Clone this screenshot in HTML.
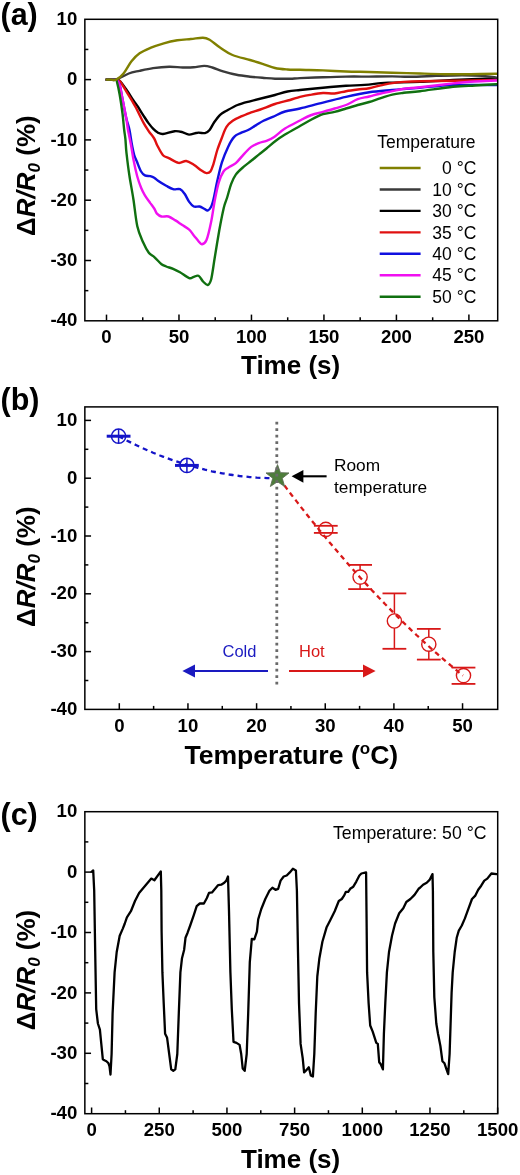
<!DOCTYPE html>
<html><head><meta charset="utf-8"><title>Figure</title>
<style>html,body{margin:0;padding:0;background:#fff;}body{width:520px;height:1175px;overflow:hidden;}svg{display:block;}</style>
</head><body>
<svg width="520" height="1175" viewBox="0 0 520 1175" font-family="'Liberation Sans', Arial, Helvetica, sans-serif">
<rect width="520" height="1175" fill="#fff"/>
<text x="0.5" y="24.5" font-size="30.5" font-weight="bold">(a)</text>
<text x="77.3" y="326.40" text-anchor="end" font-size="18.6" font-weight="bold">-40</text>
<line x1="84.85" y1="290.65" x2="88.35" y2="290.65" stroke="#000" stroke-width="1.50"/>
<line x1="84.85" y1="260.50" x2="91.05" y2="260.50" stroke="#000" stroke-width="1.50"/>
<text x="77.3" y="266.10" text-anchor="end" font-size="18.6" font-weight="bold">-30</text>
<line x1="84.85" y1="230.35" x2="88.35" y2="230.35" stroke="#000" stroke-width="1.50"/>
<line x1="84.85" y1="200.20" x2="91.05" y2="200.20" stroke="#000" stroke-width="1.50"/>
<text x="77.3" y="205.80" text-anchor="end" font-size="18.6" font-weight="bold">-20</text>
<line x1="84.85" y1="170.05" x2="88.35" y2="170.05" stroke="#000" stroke-width="1.50"/>
<line x1="84.85" y1="139.90" x2="91.05" y2="139.90" stroke="#000" stroke-width="1.50"/>
<text x="77.3" y="145.50" text-anchor="end" font-size="18.6" font-weight="bold">-10</text>
<line x1="84.85" y1="109.75" x2="88.35" y2="109.75" stroke="#000" stroke-width="1.50"/>
<line x1="84.85" y1="79.60" x2="91.05" y2="79.60" stroke="#000" stroke-width="1.50"/>
<text x="77.3" y="85.20" text-anchor="end" font-size="18.6" font-weight="bold">0</text>
<line x1="84.85" y1="49.45" x2="88.35" y2="49.45" stroke="#000" stroke-width="1.50"/>
<text x="77.3" y="24.90" text-anchor="end" font-size="18.6" font-weight="bold">10</text>
<line x1="142.74" y1="320.80" x2="142.74" y2="317.30" stroke="#000" stroke-width="1.50"/>
<line x1="215.22" y1="320.80" x2="215.22" y2="317.30" stroke="#000" stroke-width="1.50"/>
<line x1="287.70" y1="320.80" x2="287.70" y2="317.30" stroke="#000" stroke-width="1.50"/>
<line x1="360.18" y1="320.80" x2="360.18" y2="317.30" stroke="#000" stroke-width="1.50"/>
<line x1="432.66" y1="320.80" x2="432.66" y2="317.30" stroke="#000" stroke-width="1.50"/>
<line x1="106.50" y1="320.80" x2="106.50" y2="314.60" stroke="#000" stroke-width="1.50"/>
<text x="106.50" y="343.00" text-anchor="middle" font-size="18.6" font-weight="bold">0</text>
<line x1="178.98" y1="320.80" x2="178.98" y2="314.60" stroke="#000" stroke-width="1.50"/>
<text x="178.98" y="343.00" text-anchor="middle" font-size="18.6" font-weight="bold">50</text>
<line x1="251.46" y1="320.80" x2="251.46" y2="314.60" stroke="#000" stroke-width="1.50"/>
<text x="251.46" y="343.00" text-anchor="middle" font-size="18.6" font-weight="bold">100</text>
<line x1="323.94" y1="320.80" x2="323.94" y2="314.60" stroke="#000" stroke-width="1.50"/>
<text x="323.94" y="343.00" text-anchor="middle" font-size="18.6" font-weight="bold">150</text>
<line x1="396.42" y1="320.80" x2="396.42" y2="314.60" stroke="#000" stroke-width="1.50"/>
<text x="396.42" y="343.00" text-anchor="middle" font-size="18.6" font-weight="bold">200</text>
<line x1="468.90" y1="320.80" x2="468.90" y2="314.60" stroke="#000" stroke-width="1.50"/>
<text x="468.90" y="343.00" text-anchor="middle" font-size="18.6" font-weight="bold">250</text>
<text x="290.6" y="374" text-anchor="middle" font-size="26" font-weight="bold">Time (s)</text>
<text transform="translate(34.50,175.60) rotate(-90)" text-anchor="middle" font-size="26" font-weight="bold">&#916;<tspan font-style="italic">R/R</tspan><tspan font-style="italic" font-size="17" dy="5">0</tspan><tspan dy="-5"> (%)</tspan></text>
<path d="M106.5,79.6 C107.2,79.6 109.4,79.6 111.0,79.6 C112.6,79.6 114.8,79.5 116.2,79.7 C117.6,79.9 117.9,79.2 119.6,80.8 C121.3,82.4 124.0,86.2 126.3,89.4 C128.6,92.6 131.2,97.1 133.1,100.0 C135.0,102.9 136.3,104.3 137.9,106.7 C139.5,109.1 140.9,111.7 142.7,114.4 C144.5,117.1 146.7,120.7 148.5,123.1 C150.3,125.5 151.7,127.2 153.3,128.8 C154.9,130.4 156.5,131.8 158.1,132.7 C159.7,133.6 160.2,134.2 163.0,134.0 C165.8,133.8 171.4,131.5 174.6,131.2 C177.8,130.9 179.9,131.5 182.3,132.1 C184.7,132.7 186.4,134.5 189.0,134.6 C191.6,134.7 195.0,132.9 197.7,132.7 C200.4,132.4 203.0,133.5 205.0,133.1 C207.0,132.7 208.1,131.8 209.6,130.0 C211.1,128.2 212.4,124.9 214.2,122.3 C216.0,119.7 218.3,116.5 220.4,114.6 C222.5,112.7 223.7,112.4 226.5,110.8 C229.3,109.2 233.6,106.6 237.5,105.0 C241.4,103.4 245.4,102.5 250.0,101.3 C254.6,100.0 260.8,98.5 265.0,97.5 C269.2,96.5 271.2,96.0 275.0,95.0 C278.8,94.0 283.3,92.3 287.5,91.5 C291.7,90.7 294.1,90.6 300.0,90.0 C305.9,89.4 315.3,88.4 323.0,87.7 C330.7,87.0 339.1,86.3 346.0,85.8 C352.9,85.3 358.8,85.4 364.6,84.9 C370.4,84.5 376.2,83.5 380.8,83.1 C385.4,82.7 385.8,82.8 392.3,82.6 C398.8,82.4 409.9,82.3 420.0,81.9 C430.1,81.5 440.2,80.6 453.0,80.0 C465.8,79.4 489.2,78.5 496.5,78.2" fill="none" stroke="#000000" stroke-width="2.4" stroke-linejoin="round" stroke-linecap="round"/>
<path d="M106.5,79.6 C107.2,79.6 109.4,79.6 111.0,79.6 C112.6,79.6 114.8,79.5 116.2,79.7 C117.6,79.9 117.9,78.9 119.6,80.8 C121.3,82.7 124.2,87.9 126.3,91.3 C128.4,94.7 130.5,98.3 132.1,101.0 C133.7,103.7 134.7,105.3 136.0,107.7 C137.3,110.1 138.5,112.8 139.8,115.4 C141.1,118.0 142.2,120.5 143.7,123.1 C145.1,125.7 146.8,128.2 148.5,130.8 C150.2,133.4 152.7,136.1 154.2,138.5 C155.7,140.9 155.8,142.7 157.3,145.5 C158.8,148.3 161.1,153.1 163.0,155.2 C164.9,157.3 166.2,156.8 168.8,158.1 C171.4,159.4 175.6,162.4 178.5,162.9 C181.4,163.4 183.6,160.7 186.2,161.0 C188.8,161.3 191.2,163.2 193.8,164.8 C196.4,166.4 199.4,169.2 201.5,170.6 C203.6,172.0 205.0,172.9 206.5,173.1 C208.0,173.2 209.2,173.1 210.4,171.5 C211.6,169.9 212.3,167.4 213.5,163.8 C214.7,160.2 215.9,154.3 217.3,150.0 C218.7,145.7 220.4,141.5 221.9,137.7 C223.4,133.8 224.7,129.7 226.5,126.9 C228.3,124.1 230.1,122.6 232.7,120.8 C235.3,119.0 238.8,117.6 241.9,116.2 C245.0,114.8 248.1,113.4 251.2,112.3 C254.3,111.2 256.4,110.9 260.4,109.5 C264.4,108.1 270.1,105.6 275.0,104.0 C279.9,102.4 285.8,101.2 290.0,100.0 C294.2,98.8 296.4,97.8 300.0,96.9 C303.6,96.0 307.7,95.2 311.5,94.6 C315.3,93.9 319.1,93.2 323.0,93.0 C326.9,92.8 330.8,93.8 334.6,93.5 C338.4,93.2 342.1,91.9 346.0,91.2 C349.9,90.5 353.8,90.0 357.7,89.5 C361.6,89.0 365.3,88.9 369.2,88.2 C373.1,87.5 376.9,86.2 380.8,85.4 C384.7,84.6 388.5,83.7 392.3,83.1 C396.1,82.5 399.2,82.2 403.8,81.9 C408.4,81.6 411.8,81.4 420.0,81.2 C428.2,81.0 440.2,81.0 453.0,80.8 C465.8,80.6 489.2,80.1 496.5,79.9" fill="none" stroke="#e01010" stroke-width="2.4" stroke-linejoin="round" stroke-linecap="round"/>
<path d="M106.5,79.6 C107.2,79.6 109.4,79.6 111.0,79.6 C112.6,79.6 114.8,78.9 116.2,79.7 C117.6,80.5 118.5,81.4 119.6,84.6 C120.6,87.8 121.4,93.4 122.5,99.0 C123.6,104.6 125.1,113.1 126.3,118.3 C127.5,123.5 128.6,125.5 129.5,130.0 C130.4,134.4 131.2,140.8 132.0,145.0 C132.8,149.2 133.3,152.1 134.2,155.0 C135.1,157.9 136.0,159.6 137.2,162.3 C138.3,165.1 139.8,169.3 141.1,171.5 C142.4,173.7 143.4,174.6 144.9,175.4 C146.4,176.2 148.8,175.8 150.3,176.2 C151.9,176.6 152.9,176.9 154.2,177.7 C155.5,178.5 156.0,179.5 158.0,180.8 C160.0,182.2 163.7,184.4 166.2,185.8 C168.7,187.2 170.8,188.6 173.1,189.2 C175.4,189.8 178.1,188.4 180.0,189.2 C181.9,190.0 183.1,191.7 184.6,193.8 C186.1,195.9 187.7,199.8 189.2,201.9 C190.7,204.0 192.1,205.7 193.8,206.5 C195.5,207.3 197.9,206.1 199.6,206.5 C201.3,206.9 202.8,208.1 204.2,208.8 C205.5,209.5 206.6,210.8 207.7,210.5 C208.8,210.2 210.0,208.9 211.0,207.0 C212.0,205.1 212.4,203.6 213.5,199.2 C214.6,194.8 215.9,187.0 217.3,180.8 C218.7,174.7 220.1,168.0 221.9,162.3 C223.7,156.7 226.1,151.1 228.1,146.9 C230.1,142.7 232.1,139.2 234.2,136.9 C236.2,134.6 238.1,134.2 240.4,133.1 C242.7,131.9 245.5,131.3 248.1,130.0 C250.7,128.7 253.2,126.9 255.8,125.4 C258.4,123.9 260.7,122.2 263.5,120.8 C266.3,119.4 269.1,118.5 272.7,116.9 C276.3,115.4 280.4,112.9 285.0,111.5 C289.6,110.1 293.7,110.0 300.0,108.5 C306.3,107.0 315.3,104.6 323.0,102.7 C330.7,100.8 338.3,98.6 346.0,96.9 C353.7,95.2 361.5,93.5 369.2,92.3 C376.9,91.1 386.1,90.6 392.3,90.0 C398.5,89.4 401.6,89.2 406.2,88.8 C410.8,88.4 412.2,88.3 420.0,87.7 C427.8,87.1 440.2,85.5 453.0,85.1 C465.8,84.6 489.2,85.0 496.5,85.0" fill="none" stroke="#1010e0" stroke-width="2.4" stroke-linejoin="round" stroke-linecap="round"/>
<path d="M106.5,79.6 C107.2,79.6 109.4,79.6 111.0,79.6 C112.6,79.6 114.8,78.9 116.2,79.7 C117.6,80.5 118.5,81.4 119.6,84.6 C120.6,87.8 121.4,93.4 122.5,99.0 C123.6,104.6 125.4,113.1 126.3,118.3 C127.2,123.5 127.2,125.5 128.0,130.0 C128.8,134.4 130.1,140.1 131.0,145.0 C131.9,149.9 132.4,154.0 133.4,159.2 C134.4,164.4 135.9,171.4 137.2,176.2 C138.5,180.9 139.8,184.5 141.1,187.7 C142.4,190.9 143.4,192.8 144.9,195.4 C146.4,198.0 148.8,200.9 150.3,203.1 C151.9,205.3 153.1,206.8 154.2,208.5 C155.3,210.2 155.7,212.3 156.9,213.6 C158.1,214.9 159.6,216.0 161.5,216.5 C163.4,217.0 166.2,215.8 168.5,216.5 C170.8,217.2 173.1,219.0 175.4,220.4 C177.7,221.8 180.0,223.5 182.3,225.0 C184.6,226.5 187.3,227.9 189.2,229.6 C191.1,231.3 192.2,233.5 193.8,235.4 C195.4,237.3 197.2,239.7 198.5,241.2 C199.8,242.7 200.6,244.4 201.9,244.2 C203.2,244.0 204.9,243.8 206.5,240.0 C208.1,236.2 209.8,228.3 211.2,221.5 C212.6,214.7 213.7,205.7 215.0,199.2 C216.3,192.7 217.4,186.9 218.8,182.3 C220.2,177.7 221.9,173.9 223.5,171.5 C225.1,169.1 226.0,169.1 228.1,167.7 C230.2,166.3 233.2,165.3 235.8,163.1 C238.4,160.9 240.9,157.3 243.5,154.6 C246.1,151.9 248.6,148.8 251.2,146.9 C253.8,145.0 256.2,144.1 258.8,143.1 C261.4,142.1 263.9,141.8 266.5,140.8 C269.1,139.8 271.1,139.0 274.2,136.9 C277.3,134.8 280.7,131.2 285.0,128.5 C289.3,125.8 295.6,122.8 300.0,120.5 C304.4,118.2 307.7,116.4 311.5,115.0 C315.3,113.6 319.1,113.0 323.0,111.9 C326.9,110.8 330.8,109.7 334.6,108.5 C338.4,107.3 342.1,106.5 346.0,105.0 C349.9,103.5 353.8,100.6 357.7,99.2 C361.6,97.8 365.3,97.5 369.2,96.5 C373.1,95.5 376.9,94.4 380.8,93.5 C384.7,92.6 388.5,92.0 392.3,91.2 C396.1,90.4 399.2,89.5 403.8,88.8 C408.4,88.1 411.8,88.1 420.0,87.2 C428.2,86.3 443.8,84.4 453.0,83.4 C462.2,82.5 467.8,82.0 475.0,81.5 C482.2,81.0 492.9,80.7 496.5,80.5" fill="none" stroke="#f010f0" stroke-width="2.4" stroke-linejoin="round" stroke-linecap="round"/>
<path d="M106.5,79.6 C107.2,79.6 109.4,79.6 111.0,79.6 C112.6,79.6 115.2,79.5 116.2,79.7 C117.2,79.9 116.1,78.4 116.7,80.8 C117.3,83.2 118.6,88.8 119.6,94.2 C120.6,99.7 121.7,107.5 122.5,113.5 C123.3,119.5 123.7,125.8 124.2,130.0 C124.7,134.2 125.0,135.2 125.4,139.0 C125.8,142.8 125.8,146.9 126.5,153.1 C127.2,159.3 128.3,168.5 129.5,176.2 C130.7,183.9 132.1,190.9 133.4,199.2 C134.7,207.5 135.7,219.0 137.3,226.2 C138.9,233.4 141.2,237.9 143.1,242.3 C145.0,246.7 146.9,250.2 148.8,252.7 C150.7,255.2 152.5,255.4 154.6,257.3 C156.7,259.2 159.6,262.7 161.5,264.2 C163.4,265.7 164.3,265.7 166.2,266.5 C168.1,267.3 170.8,267.8 173.1,268.8 C175.4,269.8 177.3,270.8 180.0,272.3 C182.7,273.9 186.9,277.3 189.2,278.1 C191.5,278.9 192.2,277.3 193.8,276.9 C195.4,276.5 196.9,275.0 198.5,275.8 C200.1,276.6 201.6,280.0 203.1,281.5 C204.6,283.0 206.3,285.4 207.7,285.0 C209.0,284.6 210.0,283.6 211.2,279.2 C212.3,274.8 213.3,266.6 214.6,258.5 C215.9,250.4 217.7,239.3 219.2,230.8 C220.7,222.3 222.5,213.3 223.8,207.7 C225.2,202.1 226.1,201.0 227.3,197.0 C228.5,193.0 229.8,187.5 231.2,183.8 C232.6,180.1 233.8,177.4 235.8,174.6 C237.9,171.8 240.9,169.2 243.5,166.9 C246.1,164.6 248.6,162.9 251.2,160.8 C253.8,158.8 256.2,156.7 258.8,154.6 C261.4,152.5 263.7,150.8 266.5,148.5 C269.3,146.2 272.7,143.1 275.8,140.8 C278.9,138.5 281.0,137.1 285.0,134.6 C289.0,132.1 295.6,128.5 300.0,126.0 C304.4,123.5 307.7,121.5 311.5,119.5 C315.3,117.5 319.1,115.5 323.0,114.2 C326.9,112.9 330.8,112.9 334.6,111.9 C338.4,111.0 342.1,109.7 346.0,108.5 C349.9,107.3 353.8,106.1 357.7,105.0 C361.6,103.9 365.3,103.2 369.2,102.0 C373.1,100.8 376.9,99.3 380.8,98.1 C384.7,96.9 388.5,95.5 392.3,94.6 C396.1,93.7 399.2,93.4 403.8,92.8 C408.4,92.2 411.8,92.2 420.0,91.2 C428.2,90.2 443.8,87.8 453.0,86.8 C462.2,85.8 467.8,85.9 475.0,85.5 C482.2,85.1 492.9,84.4 496.5,84.2" fill="none" stroke="#107010" stroke-width="2.4" stroke-linejoin="round" stroke-linecap="round"/>
<path d="M106.5,79.6 C107.2,79.6 109.4,79.6 111.0,79.6 C112.6,79.6 113.2,80.7 116.2,79.7 C119.2,78.7 124.9,75.0 128.8,73.5 C132.7,72.0 135.6,71.7 139.6,70.8 C143.6,69.9 148.2,68.8 153.1,68.1 C158.0,67.4 164.3,66.8 169.2,66.7 C174.1,66.6 178.6,67.4 182.7,67.5 C186.8,67.6 189.9,67.6 193.5,67.3 C197.1,67.0 201.1,65.9 204.2,65.9 C207.3,65.9 209.2,66.6 212.3,67.5 C215.5,68.4 219.1,70.1 223.1,71.3 C227.1,72.5 232.0,73.9 236.5,74.8 C241.0,75.7 245.7,76.2 250.0,76.7 C254.3,77.2 258.1,77.5 262.3,77.8 C266.5,78.1 270.4,78.5 275.0,78.7 C279.6,78.9 285.8,78.8 290.0,78.7 C294.2,78.6 294.5,78.3 300.0,78.1 C305.5,77.9 315.3,77.5 323.0,77.3 C330.7,77.0 338.3,76.7 346.0,76.6 C353.7,76.5 361.3,76.6 369.0,76.6 C376.7,76.6 385.2,76.4 392.0,76.4 C398.8,76.4 402.7,76.9 410.0,76.8 C417.3,76.7 427.3,76.2 436.0,75.9 C444.7,75.6 454.2,75.2 462.0,75.2 C469.8,75.2 476.9,75.5 482.7,75.9 C488.4,76.3 494.2,77.3 496.5,77.6" fill="none" stroke="#3a3a3a" stroke-width="2.4" stroke-linejoin="round" stroke-linecap="round"/>
<path d="M106.5,79.6 C107.2,79.6 109.4,79.6 111.0,79.6 C112.6,79.6 114.1,80.7 116.2,79.7 C118.3,78.7 121.0,76.6 123.5,73.5 C126.0,70.4 128.8,64.7 131.5,61.3 C134.2,57.9 136.4,55.5 139.6,53.3 C142.8,51.1 146.4,49.6 150.4,47.9 C154.4,46.2 159.3,44.6 163.8,43.3 C168.3,42.0 172.8,41.0 177.3,40.3 C181.8,39.6 186.5,39.4 190.8,39.0 C195.1,38.6 199.8,37.6 202.9,37.7 C206.0,37.8 206.8,38.2 209.6,39.8 C212.4,41.4 216.2,45.0 220.0,47.5 C223.8,50.0 227.5,52.9 232.5,55.0 C237.5,57.1 245.0,58.5 250.0,60.0 C255.0,61.5 258.3,62.5 262.5,63.8 C266.7,65.1 270.8,67.0 275.0,68.0 C279.2,69.0 283.3,69.2 287.5,69.5 C291.7,69.8 294.1,69.6 300.0,69.8 C305.9,70.0 315.3,70.1 323.0,70.4 C330.7,70.7 338.3,71.2 346.0,71.5 C353.7,71.8 361.3,71.8 369.0,72.0 C376.7,72.2 383.5,72.5 392.0,72.7 C400.5,73.0 411.2,73.2 420.0,73.5 C428.8,73.8 436.2,74.1 444.6,74.2 C453.0,74.3 461.9,74.3 470.5,74.2 C479.1,74.1 492.2,73.9 496.5,73.8" fill="none" stroke="#808000" stroke-width="2.4" stroke-linejoin="round" stroke-linecap="round"/>
<text x="475.5" y="147.7" text-anchor="end" font-size="17.5">Temperature</text>
<line x1="379.7" y1="168.00" x2="420.6" y2="168.00" stroke="#808000" stroke-width="2.4"/>
<text x="476.3" y="174.20" text-anchor="end" font-size="17.5">0 °C</text>
<line x1="379.7" y1="189.45" x2="420.6" y2="189.45" stroke="#3a3a3a" stroke-width="2.4"/>
<text x="476.3" y="195.65" text-anchor="end" font-size="17.5">10 °C</text>
<line x1="379.7" y1="210.90" x2="420.6" y2="210.90" stroke="#000000" stroke-width="2.4"/>
<text x="476.3" y="217.10" text-anchor="end" font-size="17.5">30 °C</text>
<line x1="379.7" y1="232.35" x2="420.6" y2="232.35" stroke="#e01010" stroke-width="2.4"/>
<text x="476.3" y="238.55" text-anchor="end" font-size="17.5">35 °C</text>
<line x1="379.7" y1="253.80" x2="420.6" y2="253.80" stroke="#1010e0" stroke-width="2.4"/>
<text x="476.3" y="260.00" text-anchor="end" font-size="17.5">40 °C</text>
<line x1="379.7" y1="275.25" x2="420.6" y2="275.25" stroke="#f010f0" stroke-width="2.4"/>
<text x="476.3" y="281.45" text-anchor="end" font-size="17.5">45 °C</text>
<line x1="379.7" y1="296.70" x2="420.6" y2="296.70" stroke="#107010" stroke-width="2.4"/>
<text x="476.3" y="302.90" text-anchor="end" font-size="17.5">50 °C</text>
<text x="0.5" y="410.2" font-size="30.5" font-weight="bold">(b)</text>
<rect x="84.85" y="406.90" width="412.85" height="302.50" fill="none" stroke="#000" stroke-width="1.50"/>
<line x1="84.85" y1="680.50" x2="88.35" y2="680.50" stroke="#000" stroke-width="1.50"/>
<line x1="84.85" y1="651.60" x2="91.05" y2="651.60" stroke="#000" stroke-width="1.50"/>
<line x1="84.85" y1="622.70" x2="88.35" y2="622.70" stroke="#000" stroke-width="1.50"/>
<line x1="84.85" y1="593.80" x2="91.05" y2="593.80" stroke="#000" stroke-width="1.50"/>
<line x1="84.85" y1="564.90" x2="88.35" y2="564.90" stroke="#000" stroke-width="1.50"/>
<line x1="84.85" y1="536.00" x2="91.05" y2="536.00" stroke="#000" stroke-width="1.50"/>
<line x1="84.85" y1="507.10" x2="88.35" y2="507.10" stroke="#000" stroke-width="1.50"/>
<line x1="84.85" y1="478.20" x2="91.05" y2="478.20" stroke="#000" stroke-width="1.50"/>
<line x1="84.85" y1="449.30" x2="88.35" y2="449.30" stroke="#000" stroke-width="1.50"/>
<line x1="84.85" y1="420.40" x2="91.05" y2="420.40" stroke="#000" stroke-width="1.50"/>
<text x="77.3" y="715.00" text-anchor="end" font-size="18.6" font-weight="bold">-40</text>
<text x="77.3" y="657.20" text-anchor="end" font-size="18.6" font-weight="bold">-30</text>
<text x="77.3" y="599.40" text-anchor="end" font-size="18.6" font-weight="bold">-20</text>
<text x="77.3" y="541.60" text-anchor="end" font-size="18.6" font-weight="bold">-10</text>
<text x="77.3" y="483.80" text-anchor="end" font-size="18.6" font-weight="bold">0</text>
<text x="77.3" y="426.00" text-anchor="end" font-size="18.6" font-weight="bold">10</text>
<line x1="119.30" y1="709.40" x2="119.30" y2="703.20" stroke="#000" stroke-width="1.50"/>
<text x="119.30" y="731.50" text-anchor="middle" font-size="18.6" font-weight="bold">0</text>
<line x1="153.62" y1="709.40" x2="153.62" y2="705.90" stroke="#000" stroke-width="1.50"/>
<line x1="187.95" y1="709.40" x2="187.95" y2="703.20" stroke="#000" stroke-width="1.50"/>
<text x="187.95" y="731.50" text-anchor="middle" font-size="18.6" font-weight="bold">10</text>
<line x1="222.28" y1="709.40" x2="222.28" y2="705.90" stroke="#000" stroke-width="1.50"/>
<line x1="256.60" y1="709.40" x2="256.60" y2="703.20" stroke="#000" stroke-width="1.50"/>
<text x="256.60" y="731.50" text-anchor="middle" font-size="18.6" font-weight="bold">20</text>
<line x1="290.93" y1="709.40" x2="290.93" y2="705.90" stroke="#000" stroke-width="1.50"/>
<line x1="325.25" y1="709.40" x2="325.25" y2="703.20" stroke="#000" stroke-width="1.50"/>
<text x="325.25" y="731.50" text-anchor="middle" font-size="18.6" font-weight="bold">30</text>
<line x1="359.57" y1="709.40" x2="359.57" y2="705.90" stroke="#000" stroke-width="1.50"/>
<line x1="393.90" y1="709.40" x2="393.90" y2="703.20" stroke="#000" stroke-width="1.50"/>
<text x="393.90" y="731.50" text-anchor="middle" font-size="18.6" font-weight="bold">40</text>
<line x1="428.23" y1="709.40" x2="428.23" y2="705.90" stroke="#000" stroke-width="1.50"/>
<line x1="462.55" y1="709.40" x2="462.55" y2="703.20" stroke="#000" stroke-width="1.50"/>
<text x="462.55" y="731.50" text-anchor="middle" font-size="18.6" font-weight="bold">50</text>
<text x="291.3" y="763.9" text-anchor="middle" font-size="26.6" font-weight="bold">Temperature (<tspan font-size="17" dy="-10">o</tspan><tspan dy="10">C)</tspan></text>
<text transform="translate(34.50,566.70) rotate(-90)" text-anchor="middle" font-size="26" font-weight="bold">&#916;<tspan font-style="italic">R/R</tspan><tspan font-style="italic" font-size="17" dy="5">0</tspan><tspan dy="-5"> (%)</tspan></text>
<path d="M118.6,436.3 L122.1,438.1 L125.5,439.9 L129.0,441.6 L132.4,443.3 L135.9,445.0 L139.3,446.6 L142.8,448.2 L146.2,449.7 L149.7,451.2 L153.1,452.7 L156.6,454.1 L160.0,455.5 L163.5,456.8 L166.9,458.1 L170.4,459.4 L173.8,460.6 L177.3,461.7 L180.7,462.9 L184.2,464.0 L187.6,465.0 L191.1,466.0 L194.5,467.0 L198.0,467.9 L201.5,468.8 L204.9,469.7 L208.4,470.5 L211.8,471.3 L215.3,472.0 L218.7,472.7 L222.2,473.3 L225.6,473.9 L229.1,474.5 L232.5,475.0 L236.0,475.5 L239.4,476.0 L242.9,476.4 L246.3,476.7 L249.8,477.1 L253.2,477.3 L256.7,477.6 L260.1,477.8 L263.6,477.9 L267.0,478.1 L270.5,478.2 L273.9,478.2 L277.4,478.2" fill="none" stroke="#1414c8" stroke-width="2.3" stroke-dasharray="5 4"/>
<path d="M279.0,478.3 L281.0,481.0 L283.0,483.6 L285.0,486.3 L287.0,488.9 L289.0,491.5 L291.0,494.2 L293.0,496.8 L295.0,499.4 L297.0,501.9 L299.0,504.5 L301.0,507.1 L303.0,509.6 L305.0,512.1 L307.0,514.7 L309.0,517.2 L311.0,519.7 L313.0,522.2 L315.0,524.6 L317.0,527.1 L319.0,529.6 L321.0,532.0 L323.0,534.4 L325.0,536.9 L327.0,539.3 L329.0,541.7 L331.0,544.0 L333.0,546.4 L335.0,548.8 L337.0,551.1 L339.0,553.5 L341.0,555.8 L343.0,558.1 L345.0,560.4 L347.0,562.7 L349.0,565.0 L351.0,567.2 L353.0,569.5 L355.0,571.7 L357.0,574.0 L359.0,576.2 L361.0,578.4 L363.0,580.6 L365.0,582.8 L367.0,584.9 L369.0,587.1 L371.0,589.2 L373.0,591.4 L375.0,593.5 L377.0,595.6 L379.0,597.7 L381.0,599.8 L383.0,601.9 L385.0,604.0 L387.0,606.0 L389.0,608.1 L391.0,610.1 L393.0,612.1 L395.0,614.1 L397.0,616.1 L399.0,618.1 L401.0,620.1 L403.0,622.1 L405.0,624.0 L407.0,625.9 L409.0,627.9 L411.0,629.8 L413.0,631.7 L415.0,633.6 L417.0,635.5 L419.0,637.3 L421.0,639.2 L423.0,641.0 L425.0,642.9 L427.0,644.7 L429.0,646.5 L431.0,648.3 L433.0,650.1 L435.0,651.9 L437.0,653.6 L439.0,655.4 L441.0,657.1 L443.0,658.9 L445.0,660.6 L447.0,662.3 L449.0,664.0 L451.0,665.7 L453.0,667.3 L455.0,669.0 L457.0,670.6 L459.0,672.3 L461.0,673.9 L463.0,675.5" fill="none" stroke="#d81818" stroke-width="2.3" stroke-dasharray="5 4"/>
<circle cx="118.60" cy="436.20" r="7.10" fill="none" stroke="#1414c8" stroke-width="1.5"/>
<line x1="118.60" y1="429.10" x2="118.60" y2="443.30" stroke="#1414c8" stroke-width="1.5"/>
<line x1="106.70" y1="436.20" x2="130.50" y2="436.20" stroke="#1414c8" stroke-width="3"/>
<circle cx="186.90" cy="465.40" r="7.10" fill="none" stroke="#1414c8" stroke-width="1.5"/>
<line x1="186.90" y1="458.30" x2="186.90" y2="472.50" stroke="#1414c8" stroke-width="1.5"/>
<line x1="175.00" y1="465.40" x2="198.80" y2="465.40" stroke="#1414c8" stroke-width="3"/>
<circle cx="325.80" cy="529.40" r="7.10" fill="none" stroke="#d81818" stroke-width="1.4"/>
<line x1="313.90" y1="525.80" x2="337.70" y2="525.80" stroke="#d81818" stroke-width="1.8"/>
<line x1="313.90" y1="532.90" x2="337.70" y2="532.90" stroke="#d81818" stroke-width="1.8"/>
<circle cx="360.10" cy="577.10" r="7.10" fill="none" stroke="#d81818" stroke-width="1.4"/>
<line x1="360.10" y1="564.90" x2="360.10" y2="570.00" stroke="#d81818" stroke-width="1.5"/>
<line x1="360.10" y1="584.20" x2="360.10" y2="589.10" stroke="#d81818" stroke-width="1.5"/>
<line x1="348.20" y1="564.90" x2="372.00" y2="564.90" stroke="#d81818" stroke-width="1.8"/>
<line x1="348.20" y1="589.10" x2="372.00" y2="589.10" stroke="#d81818" stroke-width="1.8"/>
<circle cx="394.40" cy="621.00" r="7.10" fill="none" stroke="#d81818" stroke-width="1.4"/>
<line x1="394.40" y1="593.40" x2="394.40" y2="613.90" stroke="#d81818" stroke-width="1.5"/>
<line x1="394.40" y1="628.10" x2="394.40" y2="648.80" stroke="#d81818" stroke-width="1.5"/>
<line x1="382.50" y1="593.40" x2="406.30" y2="593.40" stroke="#d81818" stroke-width="1.8"/>
<line x1="382.50" y1="648.80" x2="406.30" y2="648.80" stroke="#d81818" stroke-width="1.8"/>
<circle cx="428.80" cy="644.20" r="7.10" fill="none" stroke="#d81818" stroke-width="1.4"/>
<line x1="428.80" y1="628.90" x2="428.80" y2="637.10" stroke="#d81818" stroke-width="1.5"/>
<line x1="428.80" y1="651.30" x2="428.80" y2="659.60" stroke="#d81818" stroke-width="1.5"/>
<line x1="416.90" y1="628.90" x2="440.70" y2="628.90" stroke="#d81818" stroke-width="1.8"/>
<line x1="416.90" y1="659.60" x2="440.70" y2="659.60" stroke="#d81818" stroke-width="1.8"/>
<circle cx="463.50" cy="675.60" r="7.10" fill="none" stroke="#d81818" stroke-width="1.4"/>
<line x1="463.50" y1="667.60" x2="463.50" y2="668.50" stroke="#d81818" stroke-width="1.5"/>
<line x1="463.50" y1="682.70" x2="463.50" y2="683.90" stroke="#d81818" stroke-width="1.5"/>
<line x1="451.60" y1="667.60" x2="475.40" y2="667.60" stroke="#d81818" stroke-width="1.8"/>
<line x1="451.60" y1="683.90" x2="475.40" y2="683.90" stroke="#d81818" stroke-width="1.8"/>
<path d="M277.50,464.60 L280.44,472.65 L289.01,472.96 L282.26,478.25 L284.61,486.49 L277.50,481.70 L270.39,486.49 L272.74,478.25 L265.99,472.96 L274.56,472.65 Z" fill="#4d7d3a" stroke="#5d6d55" stroke-width="0.9" stroke-linejoin="round"/>
<line x1="276.8" y1="421.8" x2="276.8" y2="688" stroke="#6a6a6a" stroke-width="2.8" stroke-dasharray="2.8 3.7"/>
<line x1="300" y1="476.3" x2="326.6" y2="476.3" stroke="#000" stroke-width="2.1"/>
<path d="M291.6,476.3 L303.4,469.9 L303.4,482.7 Z" fill="#000"/>
<text x="334" y="471.3" font-size="17.3">Room</text>
<text x="334" y="492.6" font-size="17.3">temperature</text>
<text x="222.5" y="657.4" font-size="16.5" fill="#1a1ac0">Cold</text>
<line x1="193" y1="671" x2="268" y2="671" stroke="#1a1ac0" stroke-width="2.1"/>
<path d="M182.4,671 L195,664.6 L195,677.4 Z" fill="#1a1ac0"/>
<text x="299" y="657.4" font-size="16.5" fill="#d81818">Hot</text>
<line x1="289" y1="671" x2="365" y2="671" stroke="#d81818" stroke-width="2.1"/>
<path d="M375.6,671 L363,664.6 L363,677.4 Z" fill="#d81818"/>
<text x="0.5" y="824.5" font-size="30.5" font-weight="bold">(c)</text>
<rect x="84.85" y="811.70" width="412.85" height="302.00" fill="none" stroke="#000" stroke-width="1.50"/>
<line x1="84.85" y1="1083.50" x2="88.35" y2="1083.50" stroke="#000" stroke-width="1.50"/>
<line x1="84.85" y1="1053.30" x2="91.05" y2="1053.30" stroke="#000" stroke-width="1.50"/>
<line x1="84.85" y1="1023.10" x2="88.35" y2="1023.10" stroke="#000" stroke-width="1.50"/>
<line x1="84.85" y1="992.90" x2="91.05" y2="992.90" stroke="#000" stroke-width="1.50"/>
<line x1="84.85" y1="962.70" x2="88.35" y2="962.70" stroke="#000" stroke-width="1.50"/>
<line x1="84.85" y1="932.50" x2="91.05" y2="932.50" stroke="#000" stroke-width="1.50"/>
<line x1="84.85" y1="902.30" x2="88.35" y2="902.30" stroke="#000" stroke-width="1.50"/>
<line x1="84.85" y1="872.10" x2="91.05" y2="872.10" stroke="#000" stroke-width="1.50"/>
<line x1="84.85" y1="841.90" x2="88.35" y2="841.90" stroke="#000" stroke-width="1.50"/>
<text x="77.3" y="1119.30" text-anchor="end" font-size="18.6" font-weight="bold">-40</text>
<text x="77.3" y="1058.90" text-anchor="end" font-size="18.6" font-weight="bold">-30</text>
<text x="77.3" y="998.50" text-anchor="end" font-size="18.6" font-weight="bold">-20</text>
<text x="77.3" y="938.10" text-anchor="end" font-size="18.6" font-weight="bold">-10</text>
<text x="77.3" y="877.70" text-anchor="end" font-size="18.6" font-weight="bold">0</text>
<text x="77.3" y="817.30" text-anchor="end" font-size="18.6" font-weight="bold">10</text>
<line x1="91.60" y1="1113.70" x2="91.60" y2="1107.50" stroke="#000" stroke-width="1.50"/>
<text x="91.60" y="1135.80" text-anchor="middle" font-size="18.6" font-weight="bold">0</text>
<line x1="125.44" y1="1113.70" x2="125.44" y2="1110.20" stroke="#000" stroke-width="1.50"/>
<line x1="159.27" y1="1113.70" x2="159.27" y2="1107.50" stroke="#000" stroke-width="1.50"/>
<text x="159.27" y="1135.80" text-anchor="middle" font-size="18.6" font-weight="bold">250</text>
<line x1="193.11" y1="1113.70" x2="193.11" y2="1110.20" stroke="#000" stroke-width="1.50"/>
<line x1="226.95" y1="1113.70" x2="226.95" y2="1107.50" stroke="#000" stroke-width="1.50"/>
<text x="226.95" y="1135.80" text-anchor="middle" font-size="18.6" font-weight="bold">500</text>
<line x1="260.79" y1="1113.70" x2="260.79" y2="1110.20" stroke="#000" stroke-width="1.50"/>
<line x1="294.62" y1="1113.70" x2="294.62" y2="1107.50" stroke="#000" stroke-width="1.50"/>
<text x="294.62" y="1135.80" text-anchor="middle" font-size="18.6" font-weight="bold">750</text>
<line x1="328.46" y1="1113.70" x2="328.46" y2="1110.20" stroke="#000" stroke-width="1.50"/>
<line x1="362.30" y1="1113.70" x2="362.30" y2="1107.50" stroke="#000" stroke-width="1.50"/>
<text x="362.30" y="1135.80" text-anchor="middle" font-size="18.6" font-weight="bold">1000</text>
<line x1="396.14" y1="1113.70" x2="396.14" y2="1110.20" stroke="#000" stroke-width="1.50"/>
<line x1="429.98" y1="1113.70" x2="429.98" y2="1107.50" stroke="#000" stroke-width="1.50"/>
<text x="429.98" y="1135.80" text-anchor="middle" font-size="18.6" font-weight="bold">1250</text>
<line x1="463.81" y1="1113.70" x2="463.81" y2="1110.20" stroke="#000" stroke-width="1.50"/>
<line x1="497.65" y1="1113.70" x2="497.65" y2="1107.50" stroke="#000" stroke-width="1.50"/>
<text x="497.65" y="1135.80" text-anchor="middle" font-size="18.6" font-weight="bold">1500</text>
<text x="290.6" y="1167.6" text-anchor="middle" font-size="26" font-weight="bold">Time (s)</text>
<text transform="translate(34.50,970.00) rotate(-90)" text-anchor="middle" font-size="26" font-weight="bold">&#916;<tspan font-style="italic">R/R</tspan><tspan font-style="italic" font-size="17" dy="5">0</tspan><tspan dy="-5"> (%)</tspan></text>
<text x="333" y="838.5" font-size="17.7">Temperature: 50 °C</text>
<path d="M91.6,871.8 L93.2,870.4 L94.2,890.8 L95.2,952.0 L96.2,1009.2 L97.9,1023.5 L99.9,1029.6 L101.3,1043.9 L102.8,1059.2 L104.4,1060.2 L106.4,1061.2 L108.5,1063.3 L109.5,1066.3 L110.5,1074.5 L111.6,1054.0 L112.6,1013.3 L114.6,972.4 L116.7,952.0 L119.7,935.7 L122.8,928.6 L124.8,923.5 L126.9,917.3 L130.9,911.2 L135.0,901.0 L139.1,892.9 L145.2,885.7 L151.3,878.6 L154.4,880.2 L160.8,871.4 L161.3,890.8 L161.6,931.6 L162.4,972.4 L163.7,1003.0 L165.1,1033.7 L167.1,1037.8 L169.2,1054.0 L171.2,1069.4 L173.3,1070.8 L175.3,1069.4 L177.3,1054.0 L178.8,1013.3 L180.4,972.4 L182.0,958.2 L184.1,950.0 L185.5,937.8 L187.6,932.7 L190.2,925.5 L193.7,915.3 L196.7,906.1 L199.8,903.5 L203.9,903.5 L206.9,898.0 L209.0,892.9 L212.0,892.4 L215.1,888.8 L218.2,885.1 L221.2,884.7 L224.3,882.7 L226.3,880.6 L228.0,876.5 L229.0,911.2 L230.4,972.4 L231.8,1009.2 L233.5,1041.8 L236.5,1042.9 L239.6,1044.9 L241.2,1054.0 L242.7,1068.4 L244.7,1070.8 L246.7,1054.0 L248.2,1013.3 L249.8,962.2 L251.8,938.8 L254.3,939.4 L256.9,931.6 L258.2,919.4 L261.2,909.2 L265.3,899.0 L269.4,890.8 L272.4,887.8 L275.5,889.8 L278.2,888.8 L280.6,880.6 L283.7,876.5 L286.7,875.5 L289.8,872.4 L292.9,868.8 L295.9,870.4 L296.9,890.8 L298.0,952.0 L299.0,1003.0 L300.6,1043.9 L302.7,1058.2 L304.1,1072.4 L306.1,1070.4 L308.8,1067.3 L310.8,1075.5 L312.9,1076.5 L314.3,1054.0 L315.7,1013.3 L317.3,976.5 L319.4,958.2 L322.4,941.8 L326.5,927.6 L330.6,919.4 L334.7,911.2 L338.8,901.0 L341.8,899.0 L343.9,895.9 L345.9,891.8 L348.2,891.8 L350.2,888.8 L353.3,886.7 L356.3,881.6 L359.4,875.5 L361.4,873.5 L366.1,872.4 L366.5,911.2 L367.1,972.4 L368.6,1003.0 L370.2,1025.5 L372.7,1031.6 L374.7,1037.8 L376.3,1042.9 L377.8,1043.9 L379.2,1062.2 L380.8,1064.3 L382.9,1069.4 L383.9,1033.7 L385.3,1003.0 L386.9,972.4 L389.0,952.0 L392.0,935.7 L395.1,923.5 L399.2,913.3 L403.3,908.2 L406.3,902.0 L410.4,899.0 L414.5,894.9 L418.6,888.8 L420.0,887.8 L423.1,884.7 L426.7,882.7 L429.8,879.6 L432.5,874.1 L432.9,890.8 L433.3,952.0 L434.3,997.0 L436.3,1023.5 L438.0,1033.7 L440.4,1046.0 L442.4,1061.2 L444.5,1063.3 L446.5,1069.4 L448.2,1074.1 L449.6,1054.0 L450.6,1023.5 L451.6,992.9 L452.7,972.4 L454.7,952.0 L456.7,937.8 L458.8,930.6 L461.8,925.5 L464.9,918.4 L469.0,907.1 L472.0,899.0 L475.1,895.9 L478.2,889.8 L481.2,885.7 L484.3,880.6 L487.3,878.6 L491.4,873.5 L496.5,874.1" fill="none" stroke="#000" stroke-width="2.3" stroke-linejoin="round" stroke-linecap="round"/>
<rect x="84.85" y="19.30" width="412.85" height="301.50" fill="none" stroke="#000" stroke-width="1.50"/>
</svg>
</body></html>
